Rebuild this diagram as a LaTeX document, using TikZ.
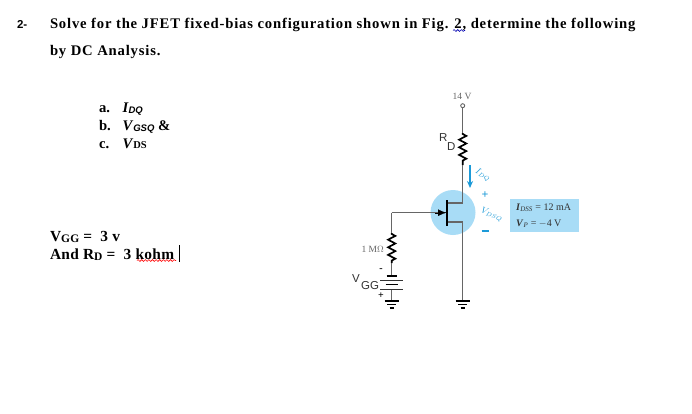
\documentclass[tikz,border=0pt]{standalone}
\usepackage{fontspec}
\setmainfont{Liberation Serif}
\setsansfont{Liberation Sans}
\usetikzlibrary{decorations.pathmorphing,arrows.meta}
\definecolor{wire}{HTML}{666666}
\definecolor{lightblue}{HTML}{A8DCF6}
\definecolor{figblue}{HTML}{1C9AD8}
\newcommand{\ttl}{\fontsize{14.67}{16}\selectfont\bfseries\addfontfeature{LetterSpace=5.6}}
\newcommand{\bodyf}{\fontsize{14.67}{16}\selectfont\bfseries}
\newcommand{\bodyw}{\fontsize{15.4}{16}\selectfont\bfseries\addfontfeature{LetterSpace=2}}
\newcommand{\subw}[1]{\raisebox{-1.6pt}{\fontsize{11.5}{12}\selectfont #1}}
\newcommand{\subs}[1]{\raisebox{-1.4pt}{\sffamily\itshape\fontsize{9.5}{10}\selectfont #1}}
\tikzset{
  x=1pt,y=-1pt,
  txt/.style={anchor=base west,inner sep=0pt,outer sep=0pt,text=black},
  wirel/.style={draw=wire,line width=1.3pt},
  res/.style={draw=black,line width=1.7pt,decorate,decoration={zigzag,segment length=7.6pt,amplitude=3.6pt,pre length=1pt,post length=1pt}},
  thinplate/.style={draw=black!80,line width=1pt},
  plate/.style={draw=black,line width=1.8pt},
  figlbl/.style={inner sep=0pt,font=\fontsize{9.5}{10}\selectfont,text=wire},
  bluelbl/.style={inner sep=0pt,text=figblue,font=\fontsize{9}{9}\selectfont\bfseries\itshape},
  winlbl/.style={inner sep=0pt,font=\sffamily\fontsize{11.5}{12}\selectfont,text=black!80},
  wavy/.style={line width=.6pt,decorate,decoration={snake,segment length=3.6pt,amplitude=.9pt}}
}
\begin{document}
\begin{tikzpicture}
\useasboundingbox[fill=white] (0,0) rectangle (692,413);
% text
\node[txt,font=\sffamily\bfseries\fontsize{11.5}{12}\selectfont] (num) at (17,28) {2-};
\node[txt,font=\ttl] (l1) at (50,28.5) {Solve for the JFET fixed-bias configuration shown in Fig. 2, determine the following};
\node[txt,font=\ttl] (l2) at (50,55) {by DC Analysis.};
\node[txt,font=\bodyf] (a) at (99,112) {a.};
\node[txt,font=\bodyf] (b) at (99,130) {b.};
\node[txt,font=\bodyf] (c) at (99,148) {c.};
\node[txt,font=\bodyf] (ai) at (122.5,112) {\textit{I}\subs{DQ}};
\node[txt,font=\bodyf] (bi) at (122.5,130) {\textit{V}\subs{GSQ} \&};
\node[txt,font=\bodyf] (ci) at (122.5,148) {\textit{V}{\fontsize{10.5}{11}\selectfont DS}};
\node[txt,font=\bodyw] (vgg) at (50,241) {V\subw{GG} =\ \ 3 v};
\node[txt,font=\bodyw] (and) at (50,259) {And R\subw{D} =\ \ 3 kohm};
\coordinate (w1s) at (137,260.5); \coordinate (w1e) at (176,260.5);
\draw[red,wavy] (w1s) -- (w1e);
\coordinate (w2s) at (453,30.5); \coordinate (w2e) at (465,30.5);
\draw[blue!70!black,wavy] (w2s) -- (w2e);
\coordinate (cur1) at (179,245); \coordinate (cur2) at (179,262);
\draw[black,line width=.7pt] (cur1) -- (cur2);
% circuit anchors
\node[circle,fill=lightblue,minimum size=45pt,inner sep=0pt] (jfet) at (453,212.5) {};
\node[draw=wire,fill=white,circle,line width=.9pt,minimum size=4pt,inner sep=0pt] (vdd) at (462.7,105.7) {};
\coordinate (rdt) at (462.7,133); \coordinate (rdb) at (462.7,165);
\coordinate (dr) at (462.7,203); \coordinate (drg) at (447,203);
\coordinate (sr) at (462.7,222); \coordinate (srg) at (447,222);
\coordinate (gt) at (447,200); \coordinate (gb) at (447,225.5);
\coordinate (gate) at (446,212.7); \coordinate (gl) at (391.7,212.7);
\coordinate (rgt) at (391.7,233); \coordinate (rgb) at (391.7,263);
\coordinate (bat) at (391.7,275.7); \coordinate (batb) at (391.7,289);
\coordinate (g1) at (391.7,301); \coordinate (g2) at (462.7,301);
% wires
\draw[wirel] (vdd) -- (rdt);
\draw[res] (rdt) -- (rdb);
\draw[wirel] (rdb) -- (dr) -- (drg);
\draw[wirel] (srg) -- (sr) -- (g2);
\draw[black,line width=2.4pt] (gt) -- (gb);
\draw[wirel] (gl) -- (gate);
\draw[black,line width=.1pt,-{Latex[length=8pt,width=6.5pt]}] (435,212.7) -- (gate);
\draw[wirel] (gl) -- (rgt);
\draw[res] (rgt) -- (rgb);
\draw[wirel] (rgb) -- (bat);
\draw[wirel] (batb) -- (g1);
% battery
\draw[plate] (386.5,275.7) -- (397,275.7);
\draw[thinplate] (380,280) -- (403,280);
\draw[plate] (385.5,284.5) -- (397.5,284.5);
\draw[thinplate] (380,289) -- (403,289);
% grounds
\foreach \g in {g1,g2}{
  \draw[plate] ([xshift=-7pt]\g) -- ([xshift=7pt]\g);
  \draw[plate] ([xshift=-4.5pt,yshift=-3.5pt]\g) -- ([xshift=4.5pt,yshift=-3.5pt]\g);
  \draw[plate] ([xshift=-2.2pt,yshift=-7pt]\g) -- ([xshift=2.2pt,yshift=-7pt]\g);
}
% labels
\node[figlbl] (v14) at (462,96.5) {14 V};
\node[winlbl,anchor=base west] (rd1) at (439,141) {R};
\node[winlbl,anchor=base west] (rd2) at (447,150) {D};
\node[figlbl,anchor=east] (rm) at (384,249) {1 M$\Omega$};
\node[winlbl,anchor=base west] (vg1) at (352,282) {V};
\node[winlbl,anchor=base west] (vg2) at (361,289) {GG};
\node[inner sep=0pt,font=\bfseries\fontsize{10}{10}\selectfont] (minus) at (381,270.5) {-};
\node[inner sep=0pt,font=\bfseries\fontsize{10}{10}\selectfont] (plus) at (381,296) {+};
% blue annotation
\coordinate (ia) at (470,165); \coordinate (ib) at (470,188);
\draw[figblue,line width=1.3pt,-{Stealth[length=7pt,width=6pt]}] (ia) -- (ib);
\node[bluelbl,rotate=-32] (idq) at (483,175) {$I_{DQ}$};
\node[bluelbl,rotate=-20] (vds) at (492,215) {$V_{DSQ}$};
\node[inner sep=0pt,text=figblue,font=\bfseries\fontsize{12}{12}\selectfont] (pl) at (485,195) {+};
\coordinate (mn1) at (481.5,231); \coordinate (mn2) at (489,231);
\draw[figblue,line width=1.6pt] (mn1) -- (mn2);
\node[fill=lightblue,minimum width=69pt,minimum height=33pt,inner sep=0pt] (box) at (544.5,215.5) {};
\node[inner sep=0pt,anchor=base west,font=\fontsize{10}{10}\selectfont,text=black!80] (ps1) at (516,210) {\textit{\textbf{I}}$_{\mathit{DSS}}$ = 12 mA};
\node[inner sep=0pt,anchor=base west,font=\fontsize{10}{10}\selectfont,text=black!80] (ps2) at (516,226) {\textit{\textbf{V}}$_{\mathit{P}}$ = $-$4 V};
\end{tikzpicture}
\end{document}
